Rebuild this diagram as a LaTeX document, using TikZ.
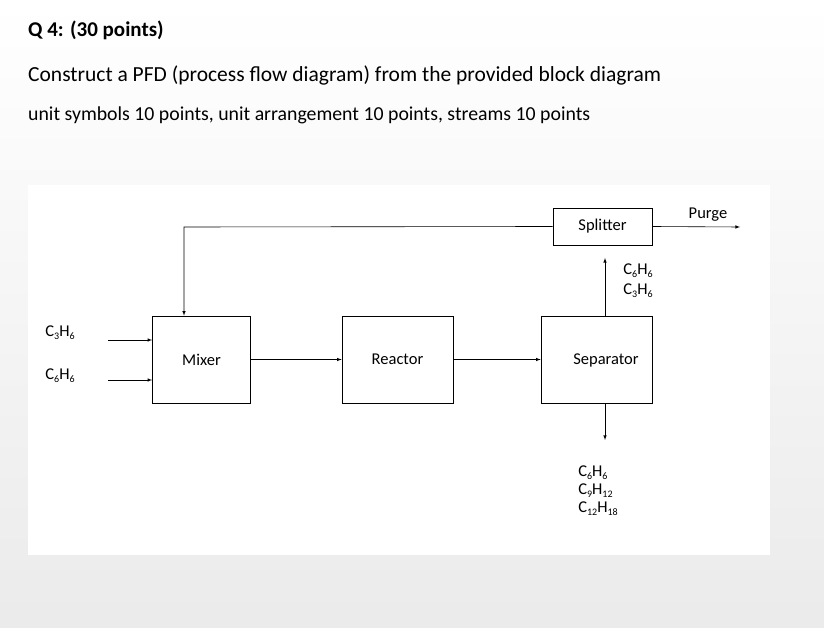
\documentclass[tikz,border=0pt]{standalone}
\usepackage{fontspec}
\setmainfont{Carlito}
\newcommand{\sbs}[1]{\raisebox{-0.35ex}{\fontsize{10}{10}\selectfont #1}}
\begin{document}
\begin{tikzpicture}[x=1pt,y=-1pt,
  blk/.style={draw,semithick,minimum width=98pt,minimum height=87pt,inner sep=0pt,font=\fontsize{16.5}{18}\selectfont},
  lbl/.style={font=\fontsize{16.5}{18}\selectfont,inner sep=0pt},
  arr/.style={-latex,semithick}]
\shade[top color=white,bottom color=black!8] (0,0) rectangle (824,628);
\useasboundingbox (0,0) rectangle (824,628);
\fill[white] (28,185) rectangle (770,555);
\node[anchor=west,inner sep=0pt,font=\bfseries\fontsize{21}{22}\selectfont] (q) at (28,30) {Q 4: (30 points)};
\node[anchor=west,inner sep=0pt,font=\fontsize{21.5}{23}\selectfont] (c) at (28,75) {Construct a PFD (process flow diagram) from the provided block diagram};
\node[anchor=west,inner sep=0pt,font=\fontsize{19.8}{21}\selectfont] (u) at (28,115) {unit symbols 10 points, unit arrangement 10 points, streams 10 points};
\node[blk] (mix) at (201.5,359.5) {Mixer};
\node[blk,minimum width=111pt] (rea) at (397.5,359.5) {Reactor};
\node[blk,minimum width=111pt] (sep) at (596.5,359.5) {};
\node[lbl] (sept) at (606,360) {Separator};
\node[blk,minimum width=99pt,minimum height=37pt] (spl) at (602.5,226.5) {Splitter};
\node[lbl] (f1) at (60,333) {C\sbs{3}H\sbs{6}};
\node[lbl] (f2) at (60,376) {C\sbs{6}H\sbs{6}};
\coordinate (a1) at (108,340); \coordinate (a2) at (108,380);
\draw[arr] (a1) -- (a1 -| mix.west);
\draw[arr] (a2) -- (a2 -| mix.west);
\draw[arr] (mix) -- (rea);
\draw[arr] (rea) -- (sep);
\coordinate (top) at (184,227);
\draw[arr] (spl.west) -- (top) -- (top |- mix.north);
\coordinate (s1) at (605,316); \coordinate (s2) at (605,258);
\draw[arr] (s1) -- (s2);
\node[lbl,align=left] (l1) at (638,281) {C\sbs{6}H\sbs{6}\\[2pt]C\sbs{3}H\sbs{6}};
\coordinate (pp) at (740,227);
\draw[arr] (spl.east) -- (pp);
\node[lbl] (pl) at (708,215) {Purge};
\coordinate (b1) at (605,403); \coordinate (b2) at (605,440);
\draw[arr] (b1) -- (b2);
\node[lbl,align=left] (l2) at (598,491) {C\sbs{6}H\sbs{6}\\[0pt]C\sbs{9}H\sbs{12}\\[0pt]C\sbs{12}H\sbs{18}};
\end{tikzpicture}
\end{document}
